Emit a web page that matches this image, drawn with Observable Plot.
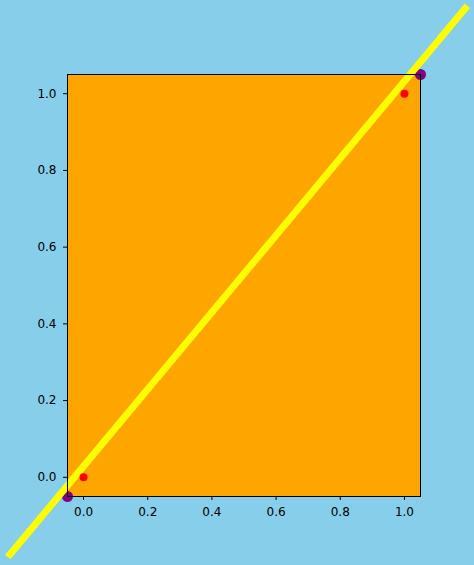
<!DOCTYPE html>
<html>
<head>
<meta charset="utf-8">
<script src="https://cdn.jsdelivr.net/npm/d3@7"></script>
<script src="https://cdn.jsdelivr.net/npm/@observablehq/plot@0.6"></script>
<style>
  html, body { margin: 0; padding: 0; background: skyblue; }
</style>
</head>
<body>
<div id="chart"></div>
<script>
const tickValues = [0, 0.2, 0.4, 0.6, 0.8, 1.0];
const redX = [0, 1];
const redY = [0, 1];
const purpleX = [-0.05, 1.05];
const purpleY = [-0.05, 1.05];
const lineX = [-0.236, 1.196];
const lineY = [-0.208, 1.229];

const red = redX.map((x, i) => ({x, y: redY[i]}));
const purple = purpleX.map((x, i) => ({x, y: purpleY[i]}));
const line = lineX.map((x, i) => ({x, y: lineY[i]}));

const chart = Plot.plot({
  width: 474,
  height: 565,
  marginLeft: 67,
  marginRight: 54,
  marginTop: 74,
  marginBottom: 69,
  style: {background: "skyblue", color: "black", fontFamily: "DejaVu Sans", fontSize: "12px"},
  x: {domain: [-0.05, 1.05]},
  y: {domain: [-0.05, 1.05]},
  marks: [
    Plot.frame({fill: "orange", stroke: "none"}),
    Plot.dot(purple, {x: "x", y: "y", r: 5.5, fill: "purple", stroke: "none"}),
    Plot.line(line, {x: "x", y: "y", stroke: "yellow", strokeWidth: 7, strokeLinecap: "butt"}),
    Plot.dot(red, {x: "x", y: "y", r: 4, fill: "red", stroke: "none"}),
    Plot.frame({stroke: "black", strokeWidth: 1}),
    Plot.axisX({ticks: tickValues, tickFormat: d3.format(".1f"), tickSize: 4, tickPadding: 7, label: null, fontSize: 12}),
    Plot.axisY({ticks: tickValues, tickFormat: d3.format(".1f"), tickSize: 4, tickPadding: 7, label: null, fontSize: 12})
  ]
});
document.getElementById("chart").appendChild(chart);
</script>
</body>
</html>
